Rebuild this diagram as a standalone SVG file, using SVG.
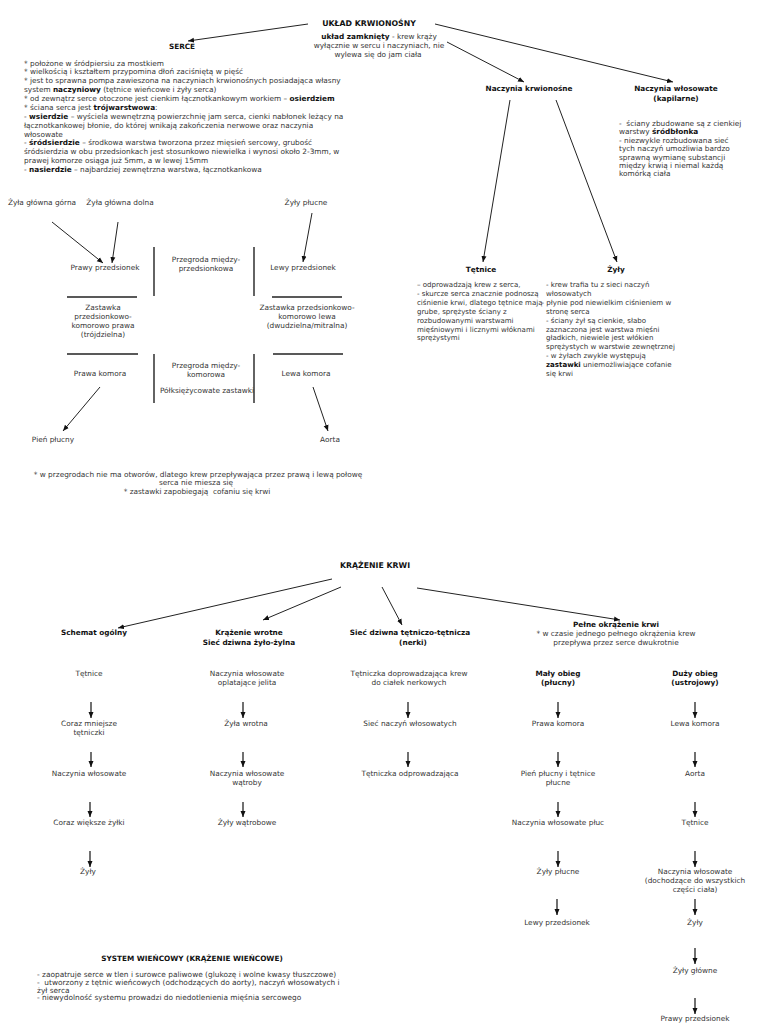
<svg xmlns="http://www.w3.org/2000/svg" width="768" height="1024" viewBox="0 0 768 1024">
<style>
text{font-family:"DejaVu Sans",Verdana,sans-serif;font-size:7.35px;fill:#333}
.b{font-weight:bold;fill:#111;font-size:7.3px}
.h{font-weight:bold;fill:#111;font-size:7.8px}
.c{text-anchor:middle}
.sm{font-size:7.4px}
.col{font-size:7.05px}
.k{font-weight:bold;fill:#111}
.ln{stroke:#222;stroke-width:1;fill:none}
.ar{stroke:#111;stroke-width:1.2;fill:none;marker-end:url(#ah)}
.sep{stroke:#222;stroke-width:1.4}
</style>
<defs>
<marker id="ah" markerWidth="6" markerHeight="6" refX="6" refY="3" orient="auto" markerUnits="userSpaceOnUse"><path d="M0,0.5 L6,3 L0,5.5 z" fill="#111"/></marker>
</defs>
<rect width="768" height="1024" fill="#fff"/>

<g id="connectors">
<line class="ln" x1="308" y1="24" x2="188" y2="41" marker-end="url(#ah)"/>
<line class="ln" x1="447" y1="42" x2="524" y2="82" marker-end="url(#ah)"/>
<line class="ln" x1="435" y1="24" x2="673" y2="82" marker-end="url(#ah)"/>
<line class="ln" x1="510" y1="100" x2="483" y2="262" marker-end="url(#ah)"/>
<line class="ln" x1="556" y1="100" x2="617" y2="262" marker-end="url(#ah)"/>
<line class="ln" x1="52" y1="222" x2="103" y2="263" marker-end="url(#ah)"/>
<line class="ln" x1="118" y1="222" x2="112" y2="263" marker-end="url(#ah)"/>
<line class="ln" x1="312" y1="213" x2="303" y2="262" marker-end="url(#ah)"/>
<line class="ln" x1="100" y1="387" x2="63" y2="431" marker-end="url(#ah)"/>
<line class="ln" x1="313" y1="387" x2="328" y2="431" marker-end="url(#ah)"/>
<line class="ln" x1="332" y1="579" x2="118" y2="628" marker-end="url(#ah)"/>
<line class="ln" x1="341" y1="587" x2="263" y2="620" marker-end="url(#ah)"/>
<line class="ln" x1="382" y1="587" x2="402" y2="625" marker-end="url(#ah)"/>
<line class="ln" x1="417" y1="588" x2="620" y2="620" marker-end="url(#ah)"/>
<!-- column 1 -->
<line class="ar" x1="91" y1="702" x2="91" y2="718"/>
<line class="ar" x1="91" y1="752" x2="91" y2="767"/>
<line class="ar" x1="90" y1="802" x2="90" y2="817"/>
<line class="ar" x1="90" y1="851" x2="90" y2="867"/>
<!-- column 2 -->
<line class="ar" x1="243" y1="702" x2="243" y2="718"/>
<line class="ar" x1="243" y1="752" x2="243" y2="767"/>
<line class="ar" x1="243" y1="802" x2="243" y2="817"/>
<!-- column 3 -->
<line class="ar" x1="408" y1="702" x2="408" y2="718"/>
<line class="ar" x1="408" y1="752" x2="408" y2="767"/>
<!-- column 4 -->
<line class="ar" x1="558" y1="702" x2="558" y2="718"/>
<line class="ar" x1="558" y1="752" x2="558" y2="767"/>
<line class="ar" x1="558" y1="802" x2="558" y2="817"/>
<line class="ar" x1="558" y1="851" x2="558" y2="867"/>
<line class="ar" x1="557" y1="899" x2="557" y2="915"/>
<!-- column 5 -->
<line class="ar" x1="695" y1="702" x2="695" y2="718"/>
<line class="ar" x1="695" y1="752" x2="695" y2="767"/>
<line class="ar" x1="695" y1="802" x2="695" y2="817"/>
<line class="ar" x1="695" y1="851" x2="695" y2="867"/>
<line class="ar" x1="695" y1="899" x2="695" y2="915"/>
<line class="ar" x1="695" y1="948" x2="695" y2="964"/>
<line class="ar" x1="695" y1="998" x2="695" y2="1014"/>
</g>

<g id="separators">
<line class="sep" x1="154" y1="247" x2="154" y2="296"/>
<line class="sep" x1="254" y1="247" x2="254" y2="296"/>
<line class="sep" x1="67" y1="297" x2="137" y2="297"/>
<line class="sep" x1="272" y1="297" x2="342" y2="297"/>
<line class="sep" x1="67" y1="354" x2="138" y2="354"/>
<line class="sep" x1="273" y1="354" x2="343" y2="354"/>
<line class="sep" x1="154" y1="354" x2="154" y2="403"/>
<line class="sep" x1="254" y1="354" x2="254" y2="403"/>
</g>

<g id="uklad"><text class="h c" x="369" y="26">UKŁAD KRWIONOŚNY</text></g>
<g id="zamkniety">
<text class="c" x="379" y="39"><tspan class="k">układ zamknięty</tspan> - krew krąży</text>
<text class="c" x="379" y="48">wyłącznie w sercu i naczyniach, nie</text>
<text class="c" x="378" y="57">wylewa się do jam ciała</text>
</g>
<g id="serce">
<text class="b c" x="182" y="49">SERCE</text>
<text x="24" y="65.5">* położone w śródpiersiu za mostkiem</text>
<text x="24" y="74.4">* wielkością i kształtem przypomina dłoń zaciśniętą w pięść</text>
<text x="24" y="83.3">* jest to sprawna pompa zawieszona na naczyniach krwionośnych posiadająca własny</text>
<text x="24" y="92.1">system <tspan class="k">naczyniowy</tspan> (tętnice wieńcowe i żyły serca)</text>
<text x="24" y="101">* od zewnątrz serce otoczone jest cienkim łącznotkankowym workiem – <tspan class="k">osierdziem</tspan></text>
<text x="24" y="109.9">* ściana serca jest <tspan class="k">trójwarstwowa</tspan>:</text>
<text x="24" y="118.8">- <tspan class="k">wsierdzie</tspan> – wyściela wewnętrzną powierzchnię jam serca, cienki nabłonek leżący na</text>
<text x="24" y="127.6">łącznotkankowej błonie, do której wnikają zakończenia nerwowe oraz naczynia</text>
<text x="24" y="136.5">włosowate</text>
<text x="24" y="145.4">- <tspan class="k">śródsierdzie</tspan> – środkowa warstwa tworzona przez mięsień sercowy, grubość</text>
<text x="24" y="154.3">śródsierdzia w obu przedsionkach jest stosunkowo niewielka i wynosi około 2-3mm, w</text>
<text x="24" y="163.1">prawej komorze osiąga już 5mm, a w lewej 15mm</text>
<text x="24" y="172">- <tspan class="k">nasierdzie</tspan> – najbardziej zewnętrzna warstwa, łącznotkankowa</text>
</g>
<g id="naczynia-krwionosne"><text class="b c" x="529" y="91">Naczynia krwionośne</text></g>
<g id="naczynia-wlosowate">
<text class="b c" x="676" y="91">Naczynia włosowate</text>
<text class="b c" x="676" y="100.5">(kapilarne)</text>
<text x="619" y="126" xml:space="preserve">-  ściany zbudowane są z cienkiej</text>
<text x="619" y="134.4">warstwy <tspan class="k">śródbłonka</tspan></text>
<text x="619" y="142.8">- niezwykle rozbudowana sieć</text>
<text x="619" y="151.2">tych naczyń umożliwia bardzo</text>
<text x="619" y="159.6">sprawną wymianę substancji</text>
<text x="619" y="168">między krwią i niemal każdą</text>
<text x="619" y="176.4">komórką ciała</text>
</g>
<g id="tetnice">
<text class="b c" x="481" y="271.5">Tętnice</text>
<text class="col" x="417" y="287">– odprowadzają krew z serca,</text>
<text class="col" x="417" y="295.9">- skurcze serca znacznie podnoszą</text>
<text class="col" x="417" y="304.8">ciśnienie krwi, dlatego tętnice mają</text>
<text class="col" x="417" y="313.7">grube, sprężyste ściany z</text>
<text class="col" x="417" y="322.6">rozbudowanymi warstwami</text>
<text class="col" x="417" y="331.5">mięśniowymi i licznymi włóknami</text>
<text class="col" x="417" y="340.4">sprężystymi</text>
</g>
<g id="zyly">
<text class="b c" x="616" y="271.5">Żyły</text>
<text class="col" x="546" y="287">- krew trafia tu z sieci naczyń</text>
<text class="col" x="546" y="295.9">włosowatych</text>
<text class="col" x="541.5" y="304.8">- płynie pod niewielkim ciśnieniem w</text>
<text class="col" x="546" y="313.7">stronę serca</text>
<text class="col" x="546" y="322.6">- ściany żył są cienkie, słabo</text>
<text class="col" x="546" y="331.5">zaznaczona jest warstwa mięśni</text>
<text class="col" x="546" y="340.4">gładkich, niewiele jest włókien</text>
<text class="col" x="546" y="349.3">sprężystych w warstwie zewnętrznej</text>
<text class="col" x="546" y="358.2">- w żyłach zwykle występują</text>
<text class="col" x="546" y="367.1"><tspan class="k">zastawki</tspan> uniemożliwiające cofanie</text>
<text class="col" x="546" y="376">się krwi</text>
</g>

<g id="zyla-glowna-gorna"><text class="c" x="42" y="205">Żyła główna górna</text></g>
<g id="zyla-glowna-dolna"><text class="c" x="120" y="205">Żyła główna dolna</text></g>
<g id="zyly-plucne-top"><text class="c" x="306" y="205">Żyły płucne</text></g>
<g id="prawy-przedsionek"><text class="c" x="105" y="270">Prawy przedsionek</text></g>
<g id="przegroda-przedsionkowa">
<text class="c" x="206" y="262">Przegroda między-</text>
<text class="c" x="206" y="271">przedsionkowa</text>
</g>
<g id="lewy-przedsionek"><text class="c" x="303" y="270">Lewy przedsionek</text></g>
<g id="zastawka-prawa">
<text class="c" x="103" y="310">Zastawka</text>
<text class="c" x="103" y="319">przedsionkowo-</text>
<text class="c" x="103" y="328">komorowo prawa</text>
<text class="c" x="103" y="337">(trójdzielna)</text>
</g>
<g id="zastawka-lewa">
<text class="c" x="307" y="310">Zastawka przedsionkowo-</text>
<text class="c" x="307" y="319">komorowo lewa</text>
<text class="c" x="307" y="328">(dwudzielna/mitralna)</text>
</g>
<g id="prawa-komora"><text class="c" x="100" y="376">Prawa komora</text></g>
<g id="przegroda-komorowa">
<text class="c" x="206" y="368">Przegroda między-</text>
<text class="c" x="206" y="377">komorowa</text>
<text class="c" x="207" y="393">Półksiężycowate zastawki</text>
</g>
<g id="lewa-komora"><text class="c" x="306" y="376">Lewa komora</text></g>
<g id="pien-plucny"><text class="c" x="53" y="442">Pień płucny</text></g>
<g id="aorta"><text class="c" x="330" y="442">Aorta</text></g>
<g id="przypis">
<text class="c" x="198" y="476.5">* w przegrodach nie ma otworów, dlatego krew przepływająca przez prawą i lewą połowę</text>
<text class="c" x="196" y="485">serca nie miesza się</text>
<text class="c" x="197" y="494" xml:space="preserve">* zastawki zapobiegają  cofaniu się krwi</text>
</g>

<g id="krazenie"><text class="h c" x="375" y="568">KRĄŻENIE KRWI</text></g>
<g id="schemat-ogolny">
<text class="b c" x="94" y="635">Schemat ogólny</text>
<text class="c" x="89" y="676">Tętnice</text>
<text class="c" x="89" y="726">Coraz mniejsze</text>
<text class="c" x="89" y="735">tętniczki</text>
<text class="c" x="89" y="776">Naczynia włosowate</text>
<text class="c" x="89" y="824.5">Coraz większe żyłki</text>
<text class="c" x="88" y="874">Żyły</text>
</g>
<g id="krazenie-wrotne">
<text class="b c" x="249" y="635">Krążenie wrotne</text>
<text class="b c" x="249" y="644.5">Sieć dziwna żyło-żylna</text>
<text class="c" x="247" y="676">Naczynia włosowate</text>
<text class="c" x="247" y="685">oplatające jelita</text>
<text class="c" x="246" y="726">Żyła wrotna</text>
<text class="c" x="247" y="776">Naczynia włosowate</text>
<text class="c" x="247" y="785">wątroby</text>
<text class="c" x="247" y="824.5">Żyły wątrobowe</text>
</g>
<g id="siec-tetniczo">
<text class="b c" x="410" y="635">Sieć dziwna tętniczo-tętnicza</text>
<text class="b c" x="413" y="644.5">(nerki)</text>
<text class="c" x="409" y="676">Tętniczka doprowadzająca krew</text>
<text class="c" x="409" y="685">do ciałek nerkowych</text>
<text class="c" x="410" y="726">Sieć naczyń włosowatych</text>
<text class="c" x="410" y="776">Tętniczka odprowadzająca</text>
</g>
<g id="pelne-okrazenie">
<text class="b c" x="616" y="627">Pełne okrążenie krwi</text>
<text class="c" x="616" y="636">* w czasie jednego pełnego okrążenia krew</text>
<text class="c" x="616" y="645">przepływa przez serce dwukrotnie</text>
</g>
<g id="maly-obieg">
<text class="b c" x="558" y="676">Mały obieg</text>
<text class="b c" x="558" y="685">(płucny)</text>
<text class="c" x="558" y="726">Prawa komora</text>
<text class="c" x="558" y="776">Pień płucny i tętnice</text>
<text class="c" x="558" y="785">płucne</text>
<text class="c" x="558" y="824.5">Naczynia włosowate płuc</text>
<text class="c" x="558" y="874">Żyły płucne</text>
<text class="c" x="557" y="924.5">Lewy przedsionek</text>
</g>
<g id="duzy-obieg">
<text class="b c" x="695" y="676">Duży obieg</text>
<text class="b c" x="695" y="685">(ustrojowy)</text>
<text class="c" x="695" y="726">Lewa komora</text>
<text class="c" x="695" y="776">Aorta</text>
<text class="c" x="695" y="824.5">Tętnice</text>
<text class="c" x="695" y="874">Naczynia włosowate</text>
<text class="c" x="695" y="883">(dochodzące do wszystkich</text>
<text class="c" x="695" y="892">części ciała)</text>
<text class="c" x="695" y="924.5">Żyły</text>
<text class="c" x="695" y="972.5">Żyły główne</text>
<text class="c" x="695" y="1020.5">Prawy przedsionek</text>
</g>
<g id="system-wiencowy">
<text class="b c" x="192" y="961">SYSTEM WIEŃCOWY (KRĄŻENIE WIEŃCOWE)</text>
<text class="sm" x="37" y="977">- zaopatruje serce w tlen i surowce paliwowe (glukozę i wolne kwasy tłuszczowe)</text>
<text class="sm" x="37" y="985" xml:space="preserve">-  utworzony z tętnic wieńcowych (odchodzących do aorty), naczyń włosowatych i</text>
<text class="sm" x="37" y="992.5">żył serca</text>
<text class="sm" x="37" y="1000">- niewydolność systemu prowadzi do niedotlenienia mięśnia sercowego</text>
</g>
</svg>
